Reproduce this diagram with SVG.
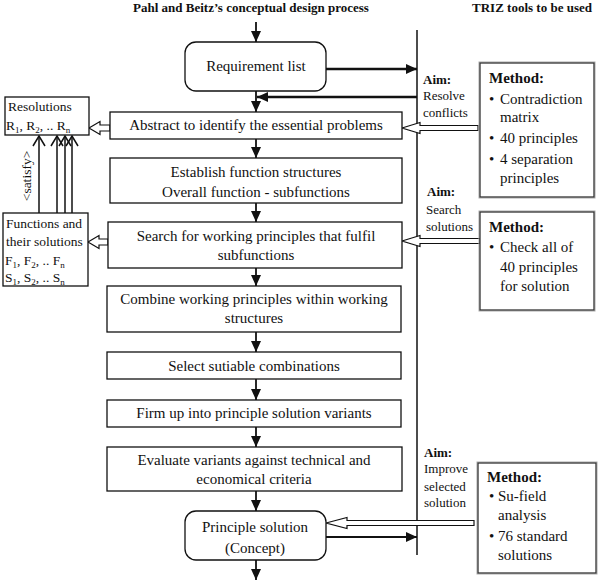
<svg xmlns="http://www.w3.org/2000/svg" width="600" height="581" viewBox="0 0 600 581">
<style>
text{font-family:"Liberation Serif","Times New Roman",serif;fill:#111}
.t{font-size:15px;text-anchor:middle}
.h{font-size:13px;font-weight:bold}
.a{font-size:13px}
.ab{font-size:13px;font-weight:bold}
.m{font-size:15px}
.mb{font-size:15px;font-weight:bold}
.s{font-size:13.5px}
.sub{font-size:9px}
.box{fill:#fff;stroke:#111;stroke-width:1.3}
.mbox{fill:#fff;stroke:#333;stroke-width:1.3}
.shadow{fill:none;stroke:#aaa;stroke-width:1}
.ln{fill:none;stroke:#111;stroke-width:1.8}
.lnb{fill:none;stroke:#111;stroke-width:2.4}
.hol{fill:#fff;stroke:#111;stroke-width:1.2;stroke-linejoin:miter}
.chev{fill:none;stroke:#111;stroke-width:1.5}
</style>
<defs>
<marker id="ah" markerUnits="userSpaceOnUse" markerWidth="12" markerHeight="10" refX="11" refY="5" orient="auto">
<path d="M0,0 L11,5 L0,10 Z" fill="#111"/>
</marker>
</defs>

<g id="titles">
<text class="h" x="251" y="12" text-anchor="middle">Pahl and Beitz’s conceptual design process</text>
<text class="h" x="532" y="12" text-anchor="middle">TRIZ tools to be used</text>
</g>

<g id="divider">
<line x1="417" y1="30" x2="417" y2="555" stroke="#111" stroke-width="1.5"/>
</g>

<g id="connectors">
<line class="ln" x1="256" y1="22" x2="256" y2="42" marker-end="url(#ah)"/>
<line class="ln" x1="256" y1="91" x2="256" y2="112" marker-end="url(#ah)"/>
<line class="ln" x1="256" y1="139" x2="256" y2="158" marker-end="url(#ah)"/>
<line class="ln" x1="256" y1="203" x2="256" y2="222" marker-end="url(#ah)"/>
<line class="ln" x1="256" y1="268" x2="256" y2="286" marker-end="url(#ah)"/>
<line class="ln" x1="256" y1="332" x2="256" y2="352" marker-end="url(#ah)"/>
<line class="ln" x1="256" y1="379" x2="256" y2="400" marker-end="url(#ah)"/>
<line class="ln" x1="256" y1="427" x2="256" y2="447" marker-end="url(#ah)"/>
<line class="ln" x1="256" y1="491" x2="256" y2="511" marker-end="url(#ah)"/>
<line class="ln" x1="256" y1="560" x2="256" y2="580" marker-end="url(#ah)"/>
<line class="lnb" x1="326" y1="69" x2="417" y2="69" marker-end="url(#ah)"/>
<line class="lnb" x1="417" y1="97" x2="257" y2="97" marker-end="url(#ah)"/>
<line class="ln" x1="326" y1="537" x2="417" y2="537" marker-end="url(#ah)"/>
<polygon class="hol" points="402,128 420,122.5 420,125.5 478,125.5 478,130.5 420,130.5 420,133.5"/>
<polygon class="hol" points="89,128 100,121.5 100,125 110,125 110,131 100,131 100,134.5"/>
<polygon class="hol" points="402,241 420,235.5 420,238.5 480,238.5 480,243.5 420,243.5 420,246.5"/>
<polygon class="hol" points="88,242 99,235.5 99,239 108,239 108,245 99,245 99,248.5"/>
<polygon class="hol" points="326,523 347,517.5 347,520.5 474,520.5 474,525.5 347,525.5 347,528.5"/>
<line class="chev" x1="39" y1="213" x2="39" y2="136"/>
<line class="chev" x1="57" y1="213" x2="57" y2="136"/>
<line class="chev" x1="65" y1="213" x2="65" y2="136"/>
<line class="chev" x1="72" y1="213" x2="72" y2="136"/>
<polyline class="chev" points="33,146 39,136 45,146"/>
<polyline class="chev" points="51,146 57,136 63,146"/>
<polyline class="chev" points="59,146 65,136 71,146"/>
<polyline class="chev" points="66,146 72,136 78,146"/>
<text class="s" transform="translate(31,176) rotate(-90)" text-anchor="middle">&lt;satisfy&gt;</text>
</g>

<g id="n-req">
<rect class="box" x="185" y="42" width="141" height="49" rx="11"/>
<text class="t" x="256" y="71">Requirement list</text>
</g>
<g id="n-abstract">
<rect class="box" x="110" y="112" width="292" height="27"/>
<text class="t" x="256" y="130">Abstract to identify the essential problems</text>
</g>
<g id="n-establish">
<rect class="box" x="110" y="158" width="292" height="45"/>
<text class="t" x="256" y="177">Establish function structures</text>
<text class="t" x="256" y="197">Overall function - subfunctions</text>
</g>
<g id="n-search">
<rect class="box" x="108" y="222" width="294" height="46"/>
<text class="t" x="256" y="241">Search for working principles that fulfil</text>
<text class="t" x="256" y="260">subfunctions</text>
</g>
<g id="n-combine">
<rect class="box" x="107" y="286" width="294" height="46"/>
<text class="t" x="254" y="304">Combine working principles within working</text>
<text class="t" x="254" y="323">structures</text>
</g>
<g id="n-select">
<rect class="box" x="107" y="352" width="294" height="27"/>
<text class="t" x="254" y="371">Select sutiable combinations</text>
</g>
<g id="n-firm">
<rect class="box" x="107" y="400" width="294" height="27"/>
<text class="t" x="254" y="418">Firm up into principle solution variants</text>
</g>
<g id="n-evaluate">
<rect class="box" x="107" y="447" width="295" height="44"/>
<text class="t" x="254" y="465">Evaluate variants against technical and</text>
<text class="t" x="254" y="484">economical criteria</text>
</g>
<g id="n-principle">
<rect class="box" x="185" y="511" width="141" height="49" rx="11"/>
<text class="t" x="255" y="532">Principle solution</text>
<text class="t" x="255" y="553">(Concept)</text>
</g>

<g id="n-resolutions">
<rect class="box" x="5" y="97" width="84" height="38"/>
<text class="s" x="8" y="111">Resolutions</text>
<text class="s" x="6" y="130">R<tspan class="sub" dy="3">1</tspan><tspan dy="-3">, R</tspan><tspan class="sub" dy="3">2</tspan><tspan dy="-3">, .. R</tspan><tspan class="sub" dy="3">n</tspan></text>
</g>
<g id="n-functions">
<rect class="box" x="3" y="213" width="85" height="73"/>
<text class="s" x="6" y="228">Functions and</text>
<text class="s" x="6" y="246">their solutions</text>
<text class="s" x="5" y="265">F<tspan class="sub" dy="3">1</tspan><tspan dy="-3">, F</tspan><tspan class="sub" dy="3">2</tspan><tspan dy="-3">, .. F</tspan><tspan class="sub" dy="3">n</tspan></text>
<text class="s" x="5" y="282">S<tspan class="sub" dy="3">1</tspan><tspan dy="-3">, S</tspan><tspan class="sub" dy="3">2</tspan><tspan dy="-3">, .. S</tspan><tspan class="sub" dy="3">n</tspan></text>
</g>

<g id="aim1">
<text class="ab" x="423" y="84">Aim:</text>
<text class="a" x="423" y="100">Resolve</text>
<text class="a" x="423" y="117">conflicts</text>
</g>
<g id="aim2">
<text class="ab" x="427" y="196">Aim:</text>
<text class="a" x="426" y="214">Search</text>
<text class="a" x="426" y="231">solutions</text>
</g>
<g id="aim3">
<text class="ab" x="424" y="457">Aim:</text>
<text class="a" x="424" y="473">Improve</text>
<text class="a" x="424" y="491">selected</text>
<text class="a" x="424" y="507">solution</text>
</g>

<g id="method1">
<rect class="shadow" x="479" y="62" width="116" height="136"/>
<rect class="mbox" x="480" y="63" width="114" height="134"/>
<text class="mb" x="489" y="83">Method:</text>
<text class="m" x="489" y="104">•</text><text class="m" x="500" y="104">Contradiction</text>
<text class="m" x="500" y="122">matrix</text>
<text class="m" x="489" y="143">•</text><text class="m" x="500" y="143">40 principles</text>
<text class="m" x="489" y="164">•</text><text class="m" x="500" y="164">4 separation</text>
<text class="m" x="500" y="183">principles</text>
</g>
<g id="method2">
<rect class="shadow" x="479" y="211" width="116" height="100"/>
<rect class="mbox" x="480" y="212" width="114" height="98"/>
<text class="mb" x="489" y="232">Method:</text>
<text class="m" x="489" y="252">•</text><text class="m" x="500" y="252">Check all of</text>
<text class="m" x="500" y="272">40 principles</text>
<text class="m" x="500" y="291">for solution</text>
</g>
<g id="method3">
<rect class="shadow" x="477" y="462" width="120" height="112"/>
<rect class="mbox" x="478" y="463" width="118" height="110"/>
<text class="mb" x="487" y="482">Method:</text>
<text class="m" x="489" y="501">•</text><text class="m" x="498" y="501">Su-field</text>
<text class="m" x="498" y="520">analysis</text>
<text class="m" x="489" y="541">•</text><text class="m" x="498" y="541">76 standard</text>
<text class="m" x="498" y="560">solutions</text>
</g>
</svg>
